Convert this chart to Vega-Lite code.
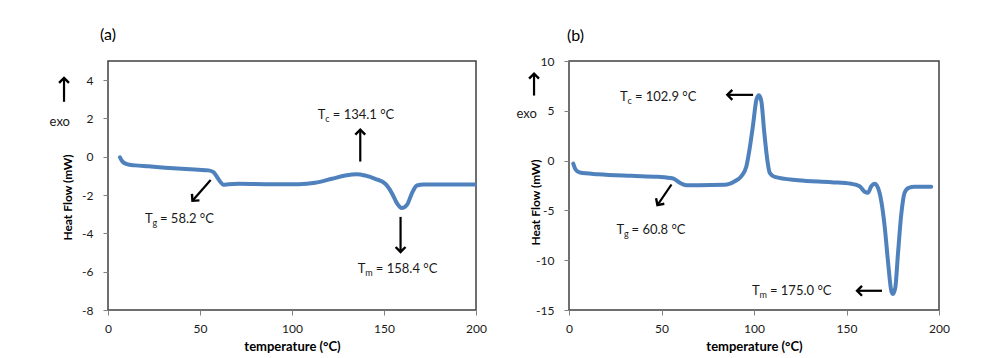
{
  "$schema": "https://vega.github.io/schema/vega-lite/v6.json",
  "background": "white",
  "padding": {"left": 48, "top": 26, "right": 5, "bottom": 0},
  "datasets": {
    "curveA": [
      {"x": 6.5, "y": -0.03}, {"x": 7.8, "y": -0.24}, {"x": 10.2, "y": -0.38}, {"x": 14.7, "y": -0.45},
      {"x": 21.9, "y": -0.5}, {"x": 31, "y": -0.57}, {"x": 40, "y": -0.63}, {"x": 49.1, "y": -0.68},
      {"x": 54.6, "y": -0.71}, {"x": 57.3, "y": -0.8}, {"x": 59.1, "y": -1.03}, {"x": 60.9, "y": -1.29},
      {"x": 62.7, "y": -1.46}, {"x": 65.5, "y": -1.43}, {"x": 70.9, "y": -1.41}, {"x": 85.4, "y": -1.43},
      {"x": 103.5, "y": -1.43}, {"x": 112.6, "y": -1.36}, {"x": 121.7, "y": -1.15}, {"x": 128.9, "y": -0.98},
      {"x": 135.3, "y": -0.91}, {"x": 139.8, "y": -0.98}, {"x": 145.2, "y": -1.15}, {"x": 150.7, "y": -1.41},
      {"x": 154.3, "y": -1.9}, {"x": 157, "y": -2.42}, {"x": 159.7, "y": -2.68}, {"x": 162.5, "y": -2.51},
      {"x": 165.2, "y": -1.9}, {"x": 167.9, "y": -1.5}, {"x": 171.5, "y": -1.45}, {"x": 185.1, "y": -1.45},
      {"x": 199.3, "y": -1.45}
    ],
    "curveB": [
      {"x": 2.3, "y": -0.3}, {"x": 3.6, "y": -0.9}, {"x": 5.9, "y": -1.2}, {"x": 15.8, "y": -1.37},
      {"x": 33.8, "y": -1.53}, {"x": 48.2, "y": -1.63}, {"x": 56.3, "y": -1.8}, {"x": 59.9, "y": -2.23},
      {"x": 63.5, "y": -2.47}, {"x": 70, "y": -2.47}, {"x": 84.2, "y": -2.43}, {"x": 89.6, "y": -2.07},
      {"x": 93.2, "y": -1.57}, {"x": 95.9, "y": -0.57}, {"x": 97.7, "y": 1.27}, {"x": 99.5, "y": 3.6},
      {"x": 101.3, "y": 6.1}, {"x": 102.7, "y": 6.55}, {"x": 104, "y": 5.93}, {"x": 105.5, "y": 2.93},
      {"x": 107.3, "y": -0.07}, {"x": 108.5, "y": -1.23}, {"x": 111.2, "y": -1.63}, {"x": 123.8, "y": -1.97},
      {"x": 141.8, "y": -2.17}, {"x": 152.6, "y": -2.33}, {"x": 157.1, "y": -2.57}, {"x": 159.8, "y": -3.13},
      {"x": 161.6, "y": -3.23}, {"x": 163.4, "y": -2.57}, {"x": 165.2, "y": -2.33}, {"x": 167, "y": -2.73},
      {"x": 168.8, "y": -4.07}, {"x": 170.7, "y": -6.73}, {"x": 172.4, "y": -10.07}, {"x": 174.2, "y": -13.07},
      {"x": 175.1, "y": -13.4}, {"x": 176.4, "y": -12.73}, {"x": 177.8, "y": -9.4}, {"x": 179.6, "y": -5.4},
      {"x": 181.4, "y": -3.23}, {"x": 183.6, "y": -2.73}, {"x": 186.8, "y": -2.63}, {"x": 195.8, "y": -2.63}
    ],
    "arrowsA": [
      {"x": -23.9, "y": 2.87, "x2": -23.9, "y2": 4.12, "dir": "up"},
      {"x": 55.8, "y": -1.21, "x2": 45.9, "y2": -2.3, "dir": "downleft"},
      {"x": 137.1, "y": -0.25, "x2": 137.1, "y2": 1.41, "dir": "up"},
      {"x": 159.0, "y": -3.14, "x2": 159.0, "y2": -4.97, "dir": "down"}
    ],
    "arrowsB": [
      {"x": -18.9, "y": 6.53, "x2": -18.9, "y2": 8.73, "dir": "up"},
      {"x": 99.5, "y": 6.6, "x2": 85.6, "y2": 6.6, "dir": "left"},
      {"x": 55.4, "y": -2.4, "x2": 47.8, "y2": -4.47, "dir": "downleft"},
      {"x": 169.2, "y": -13.07, "x2": 155.7, "y2": -13.07, "dir": "left"}
    ],
    "exoA": [{"x": -26.2, "y": 1.82, "text": "exo"}],
    "exoB": [{"x": -22.9, "y": 4.63, "text": "exo"}],
    "labelsA": [
      {"x": 20.1, "y": -3.24, "sub": "g", "rest": "= 58.2 °C"},
      {"x": 114.0, "y": 2.19, "sub": "c", "rest": "= 134.1 °C"},
      {"x": 135.8, "y": -5.86, "sub": "m", "rest": "= 158.4 °C"}
    ],
    "labelsB": [
      {"x": 27.5, "y": 6.36, "sub": "c", "rest": "= 102.9 °C"},
      {"x": 25.7, "y": -6.97, "sub": "g", "rest": "= 60.8 °C"},
      {"x": 98.9, "y": -13.07, "sub": "m", "rest": "= 175.0 °C"}
    ]
  },
  "config": {
    "view": {"stroke": "#404040", "strokeWidth": 1.5},
    "font": "Lato",
    "axis": {
      "domain": false, "grid": false, "tickColor": "#808080", "tickSize": 5, "labelFlush": false,
      "labelFont": "Lato", "labelFontSize": 12, "labelColor": "#1a1a1a",
      "labelExpr": "replace(datum.label, '−', '-')",
      "titleFont": "Lato", "titleFontSize": 12, "titleFontWeight": "bold", "titleColor": "#000000"
    },
    "title": {"font": "Lato", "fontSize": 16, "fontWeight": "normal", "color": "#000000", "anchor": "start", "frame": "group"}
  },
  "bounds": "flush",
  "spacing": 93,
  "hconcat": [
    {
      "width": 368, "height": 249,
      "title": {"text": "(a)", "dx": -8, "offset": 18},
      "encoding": {
        "x": {"field": "x", "type": "quantitative", "scale": {"domain": [0, 200], "nice": false},
              "axis": {"values": [0, 50, 100, 150, 200], "title": "temperature (°C)", "labelPadding": 8, "titleFontSize": 13, "titlePadding": 6}},
        "y": {"field": "y", "type": "quantitative", "scale": {"domain": [-8, 5], "nice": false, "zero": false},
              "axis": {"values": [-8, -6, -4, -2, 0, 2, 4], "title": "Heat Flow (mW)", "labelPadding": 10, "titlePadding": 7, "titleY": 136}}
      },
      "layer": [
        {"data": {"name": "curveA"}, "mark": {"type": "line", "interpolate": "monotone", "color": "#4F81BD", "strokeWidth": 4, "strokeCap": "round", "strokeJoin": "round"}},
        {"data": {"name": "arrowsA"}, "mark": {"type": "rule", "color": "#000000", "strokeWidth": 2.2},
         "encoding": {"x2": {"field": "x2"}, "y2": {"field": "y2"}}},
        {"data": {"name": "arrowsA"}, "transform": [{"filter": "datum.dir == 'up'"}],
         "mark": {"type": "point", "shape": "M-0.7,0.7L0,0L0.7,0.7", "angle": 0, "filled": false, "color": "#000000", "strokeWidth": 2.4, "size": 200, "opacity": 1},
         "encoding": {"x": {"field": "x2", "type": "quantitative"}, "y": {"field": "y2", "type": "quantitative"}}},
        {"data": {"name": "arrowsA"}, "transform": [{"filter": "datum.dir == 'down'"}],
         "mark": {"type": "point", "shape": "M-0.7,0.7L0,0L0.7,0.7", "angle": 180, "filled": false, "color": "#000000", "strokeWidth": 2.4, "size": 200, "opacity": 1},
         "encoding": {"x": {"field": "x2", "type": "quantitative"}, "y": {"field": "y2", "type": "quantitative"}}},
        {"data": {"name": "arrowsA"}, "transform": [{"filter": "datum.dir == 'downleft'"}],
         "mark": {"type": "point", "shape": "M-0.7,0.7L0,0L0.7,0.7", "angle": 221, "filled": false, "color": "#000000", "strokeWidth": 2.4, "size": 200, "opacity": 1},
         "encoding": {"x": {"field": "x2", "type": "quantitative"}, "y": {"field": "y2", "type": "quantitative"}}},
        {"data": {"name": "exoA"}, "mark": {"type": "text", "fontSize": 13, "color": "#1a1a1a", "align": "center", "baseline": "middle"},
         "encoding": {"text": {"field": "text"}}},
        {"data": {"name": "labelsA"}, "mark": {"type": "text", "text": "T", "fontSize": 13, "color": "#1a1a1a", "align": "left", "baseline": "middle"}},
        {"data": {"name": "labelsA"}, "mark": {"type": "text", "fontSize": 9, "color": "#1a1a1a", "align": "left", "baseline": "middle", "dx": 7.5, "dy": 4},
         "encoding": {"text": {"field": "sub"}}},
        {"data": {"name": "labelsA"}, "transform": [{"filter": "datum.sub != 'm'"}], "mark": {"type": "text", "fontSize": 13, "color": "#1a1a1a", "align": "left", "baseline": "middle", "dx": 15},
         "encoding": {"text": {"field": "rest"}}},
        {"data": {"name": "labelsA"}, "transform": [{"filter": "datum.sub == 'm'"}], "mark": {"type": "text", "fontSize": 13, "color": "#1a1a1a", "align": "left", "baseline": "middle", "dx": 18},
         "encoding": {"text": {"field": "rest"}}}
      ]
    },
    {
      "width": 370, "height": 249,
      "title": {"text": "(b)", "dx": -2, "offset": 11},
      "encoding": {
        "x": {"field": "x", "type": "quantitative", "scale": {"domain": [0, 200], "nice": false},
              "axis": {"values": [0, 50, 100, 150, 200], "title": "temperature (°C)", "labelPadding": 8, "titleFontSize": 13, "titlePadding": 6}},
        "y": {"field": "y", "type": "quantitative", "scale": {"domain": [-15, 10], "nice": false, "zero": false},
              "axis": {"values": [-15, -10, -5, 0, 5, 10], "title": "Heat Flow (mW)", "labelPadding": 10, "titlePadding": -7, "titleY": 141}}
      },
      "layer": [
        {"data": {"name": "curveB"}, "mark": {"type": "line", "interpolate": "monotone", "color": "#4F81BD", "strokeWidth": 4, "strokeCap": "round", "strokeJoin": "round"}},
        {"data": {"name": "arrowsB"}, "mark": {"type": "rule", "color": "#000000", "strokeWidth": 2.2},
         "encoding": {"x2": {"field": "x2"}, "y2": {"field": "y2"}}},
        {"data": {"name": "arrowsB"}, "transform": [{"filter": "datum.dir == 'up'"}],
         "mark": {"type": "point", "shape": "M-0.7,0.7L0,0L0.7,0.7", "angle": 0, "filled": false, "color": "#000000", "strokeWidth": 2.4, "size": 200, "opacity": 1},
         "encoding": {"x": {"field": "x2", "type": "quantitative"}, "y": {"field": "y2", "type": "quantitative"}}},
        {"data": {"name": "arrowsB"}, "transform": [{"filter": "datum.dir == 'left'"}],
         "mark": {"type": "point", "shape": "M-0.7,0.7L0,0L0.7,0.7", "angle": 270, "filled": false, "color": "#000000", "strokeWidth": 2.4, "size": 200, "opacity": 1},
         "encoding": {"x": {"field": "x2", "type": "quantitative"}, "y": {"field": "y2", "type": "quantitative"}}},
        {"data": {"name": "arrowsB"}, "transform": [{"filter": "datum.dir == 'downleft'"}],
         "mark": {"type": "point", "shape": "M-0.7,0.7L0,0L0.7,0.7", "angle": 214, "filled": false, "color": "#000000", "strokeWidth": 2.4, "size": 200, "opacity": 1},
         "encoding": {"x": {"field": "x2", "type": "quantitative"}, "y": {"field": "y2", "type": "quantitative"}}},
        {"data": {"name": "exoB"}, "mark": {"type": "text", "fontSize": 13, "color": "#1a1a1a", "align": "center", "baseline": "middle"},
         "encoding": {"text": {"field": "text"}}},
        {"data": {"name": "labelsB"}, "mark": {"type": "text", "text": "T", "fontSize": 13, "color": "#1a1a1a", "align": "left", "baseline": "middle"}},
        {"data": {"name": "labelsB"}, "mark": {"type": "text", "fontSize": 9, "color": "#1a1a1a", "align": "left", "baseline": "middle", "dx": 7.5, "dy": 4},
         "encoding": {"text": {"field": "sub"}}},
        {"data": {"name": "labelsB"}, "transform": [{"filter": "datum.sub != 'm'"}], "mark": {"type": "text", "fontSize": 13, "color": "#1a1a1a", "align": "left", "baseline": "middle", "dx": 15},
         "encoding": {"text": {"field": "rest"}}},
        {"data": {"name": "labelsB"}, "transform": [{"filter": "datum.sub == 'm'"}], "mark": {"type": "text", "fontSize": 13, "color": "#1a1a1a", "align": "left", "baseline": "middle", "dx": 18},
         "encoding": {"text": {"field": "rest"}}}
      ]
    }
  ]
}
